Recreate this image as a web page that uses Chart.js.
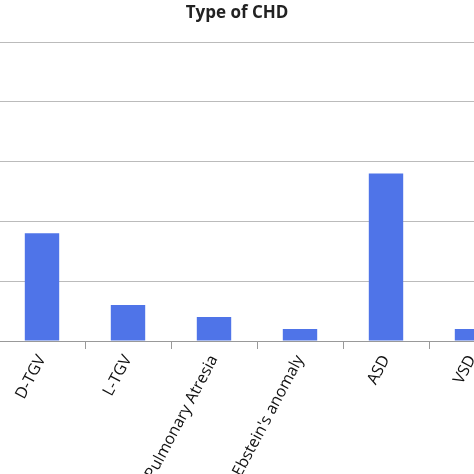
<!DOCTYPE html>
<html>
<head>
<meta charset="utf-8">
<script src="https://cdn.jsdelivr.net/npm/chart.js@4"></script>
<style>
  html, body { margin: 0; padding: 0; overflow: hidden; background: #fff; }
  #wrap { position: absolute; left: -1px; top: 0; width: 516px; height: 474px; }
  #title {
    position: absolute; left: 0; width: 474px; top: 0px; text-align: center;
    font: bold 17px "Open Sans", sans-serif; color: #222;
  }
</style>
</head>
<body>
<div id="wrap"><canvas id="chd"></canvas></div>
<div id="title">Type of CHD</div>
<script>
// data
const categories = ["D-TGV", "L-TGV", "Pulmonary Atresia", "Ebstein's anomaly", "ASD", "VSD"];
const counts = [9, 3, 2, 1, 14, 1];

new Chart(document.getElementById("chd"), {
  type: "bar",
  data: {
    labels: categories,
    datasets: [{
      data: counts,
      backgroundColor: "#4f74e8",
      barPercentage: 0.4,
      categoryPercentage: 1
    }]
  },
  options: {
    responsive: true,
    maintainAspectRatio: false,
    animation: false,
    layout: { padding: { top: 42, left: 0, right: 0, bottom: 0 } },
    plugins: { legend: { display: false }, tooltip: { enabled: false } },
    scales: {
      x: {
        grid: { display: true, drawOnChartArea: false, offset: true, tickLength: 8, color: "#999" },
        border: { color: "#999" },
        ticks: {
          maxRotation: 62, minRotation: 62, color: "#111",
          font: { family: "Open Sans", size: 16 }
        },
        afterFit: s => { s.height = 133; }
      },
      y: {
        min: 0, max: 25,
        ticks: { display: false, stepSize: 5 },
        grid: { color: "#bbb", drawTicks: false },
        border: { display: false },
        afterFit: s => { s.width = 0; }
      }
    }
  }
});
</script>
</body>
</html>
